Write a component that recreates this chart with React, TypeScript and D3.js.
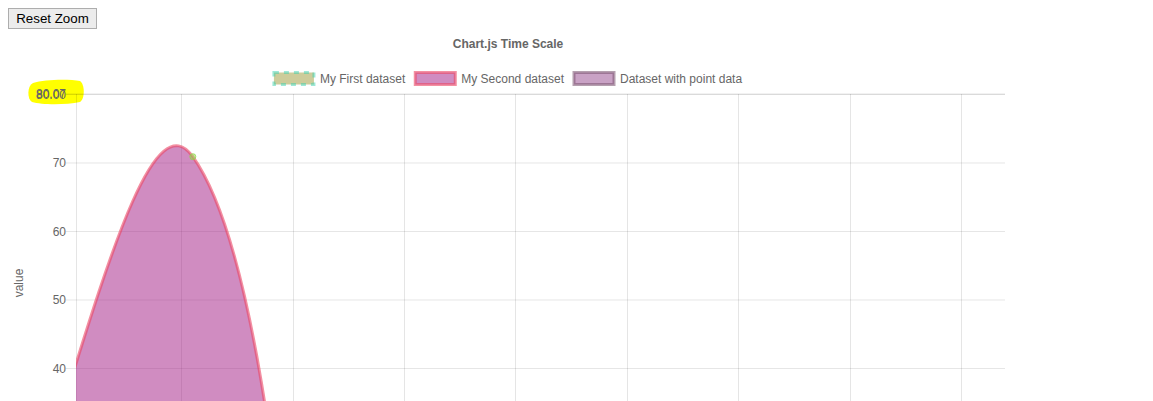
import React, { useMemo } from 'react';
import * as d3 from 'd3';

// ---------- data ----------
const TITLE = 'Chart.js Time Scale';
const Y_AXIS_TITLE = 'value';
const LEGEND_LABELS = ['My First dataset', 'My Second dataset', 'Dataset with point data'];

// visible (zoomed) window of the time axis and value axis
const X_WINDOW = [new Date(2017, 0, 3, 0, 41), new Date(2017, 0, 7, 4, 44)];
const Y_WINDOW = [24.89, 80.07];

const Y_TICK_VALUES = [80.07, 80, 70, 60, 50, 40];
const Y_TICK_LABELS = ['80.07', '80.00', '70', '60', '50', '40'];

// "My Second dataset"
const SECOND_DATES = [
  new Date(2017, 0, 1, 13, 16),
  new Date(2017, 0, 2, 13, 16),
  new Date(2017, 0, 3, 13, 16),
  new Date(2017, 0, 4, 13, 16),
  new Date(2017, 0, 5, 13, 16),
  new Date(2017, 0, 6, 13, 16),
  new Date(2017, 0, 7, 13, 16),
];
const SECOND_VALUES = [-76.9, -4.75, 70.92, -96.0, -23.0, -60, -15];

// ---------- layout / style ----------
const W = 1153;
const H = 401;
const AREA = { left: 76, right: 1005, top: 94, bottom: 472 };
const CANVAS = { left: 8, width: 1000 };
const FONT = "Arial, 'Liberation Sans', Helvetica, sans-serif";
const TEXT = '#666';
const GRID = 'rgba(0,0,0,0.1)';
const TENSION = 0.4;

const LEGEND_STYLES = [
  { fill: 'rgba(155,153,55,0.5)', stroke: 'rgba(60,210,175,0.5)', dash: '5,5' },
  { fill: 'rgba(161,25,131,0.5)', stroke: 'rgba(235,70,100,0.6)', dash: undefined },
  { fill: 'rgba(147,70,140,0.5)', stroke: 'rgba(120,80,110,0.55)', dash: undefined },
];
const SECOND_STYLE = {
  fill: 'rgba(161,25,131,0.5)',
  stroke: 'rgba(235,70,100,0.6)',
  pointFill: 'rgba(140,225,70,0.5)',
  pointStroke: 'rgba(140,215,70,0.7)',
};

type Pt = [number, number];

// Chart.js style spline (helpers.splineCurve)
function splinePath(pts: Pt[], tension: number, path: d3.Path) {
  const cps = pts.map((c, i) => {
    const prev = pts[i - 1] ?? c;
    const next = pts[i + 1] ?? c;
    const d01 = Math.hypot(c[0] - prev[0], c[1] - prev[1]);
    const d12 = Math.hypot(next[0] - c[0], next[1] - c[1]);
    let s01 = d01 / (d01 + d12);
    let s12 = d12 / (d01 + d12);
    if (isNaN(s01)) s01 = 0;
    if (isNaN(s12)) s12 = 0;
    const fa = tension * s01;
    const fb = tension * s12;
    return {
      prev: [c[0] - fa * (next[0] - prev[0]), c[1] - fa * (next[1] - prev[1])] as Pt,
      next: [c[0] + fb * (next[0] - prev[0]), c[1] + fb * (next[1] - prev[1])] as Pt,
    };
  });
  path.moveTo(pts[0][0], pts[0][1]);
  for (let i = 1; i < pts.length; i++) {
    path.bezierCurveTo(cps[i - 1].next[0], cps[i - 1].next[1], cps[i].prev[0], cps[i].prev[1], pts[i][0], pts[i][1]);
  }
  return path;
}

function measure(text: string, font: string) {
  const c = document.createElement('canvas');
  const ctx = c.getContext('2d');
  if (!ctx) return text.length * 6;
  ctx.font = font;
  return ctx.measureText(text).width;
}

export default function App() {
  const x = useMemo(() => d3.scaleTime().domain(X_WINDOW).range([AREA.left, AREA.right]), []);
  const y = useMemo(() => d3.scaleLinear().domain(Y_WINDOW).range([AREA.bottom, AREA.top]), []);

  const xTicks = x.ticks(d3.timeHour.every(12)!);

  const pts: Pt[] = SECOND_DATES.map((d, i) => [x(d), y(SECOND_VALUES[i])]);
  const linePath = splinePath(pts, TENSION, d3.path()).toString();
  const areaP = splinePath(pts, TENSION, d3.path());
  areaP.lineTo(pts[pts.length - 1][0], AREA.bottom);
  areaP.lineTo(pts[0][0], AREA.bottom);
  areaP.closePath();
  const areaPath = areaP.toString();

  // legend layout (Chart.js: box 40, gap fontSize/2, padding 10, centred)
  const legend = useMemo(() => {
    const font = `12px ${FONT}`;
    const widths = LEGEND_LABELS.map((l) => 40 + 6 + measure(l, font));
    const total = widths.reduce((a, b) => a + b + 10, 0);
    let cx = CANVAS.left + (CANVAS.width - total + 10) / 2;
    return LEGEND_LABELS.map((l, i) => {
      const item = { label: l, x: cx, style: LEGEND_STYLES[i] };
      cx += widths[i] + 10;
      return item;
    });
  }, []);

  const midY = (AREA.top + AREA.bottom) / 2;

  return (
    <div>
      <button
        style={{
          position: 'absolute',
          left: 8,
          top: 8,
          width: 89,
          height: 21,
          padding: '1px 6px',
          fontFamily: FONT,
          fontSize: 13.333,
          color: '#000',
          background: '#ececec',
          border: '1px solid #adadad',
          borderRadius: 0,
          zIndex: 2,
        }}
      >
        Reset Zoom
      </button>
      <svg
        width={W}
        height={H}
        style={{ position: 'absolute', left: 0, top: 0, overflow: 'hidden' }}
        fontFamily={FONT}
      >
        <defs>
          <clipPath id="area-clip">
            <rect x={AREA.left} y={AREA.top} width={AREA.right - AREA.left} height={AREA.bottom - AREA.top} />
          </clipPath>
        </defs>

        {/* highlighter mark behind the top tick label */}
        <path
          d="M33,83 C45,79 70,79 80,81 C85,84 85,99 80,102 C66,105 42,105 32,102 C27,99 27,86 33,83 Z"
          fill="#ffff00"
        />

        {/* title */}
        <text x={CANVAS.left + CANVAS.width / 2} y={44} dy="0.35em" textAnchor="middle" fontSize={12} fontWeight="bold" fill={TEXT}>
          {TITLE}
        </text>

        {/* legend */}
        {legend.map((it) => (
          <g key={it.label}>
            <rect
              x={it.x}
              y={72.5}
              width={40}
              height={12}
              fill={it.style.fill}
              stroke={it.style.stroke}
              strokeWidth={3}
              strokeDasharray={it.style.dash}
            />
            <text x={it.x + 46} y={78.5} dy="0.35em" fontSize={12} fill={TEXT}>
              {it.label}
            </text>
          </g>
        ))}

        {/* vertical grid lines (time ticks) */}
        {xTicks.map((t) => (
          <line
            key={+t}
            x1={Math.round(x(t)) + 0.5}
            x2={Math.round(x(t)) + 0.5}
            y1={AREA.top}
            y2={AREA.bottom + 10}
            stroke={GRID}
          />
        ))}
        {/* y axis border */}
        <line x1={AREA.left + 0.5} x2={AREA.left + 0.5} y1={AREA.top} y2={AREA.bottom} stroke={GRID} />

        {/* horizontal grid lines */}
        {Y_TICK_VALUES.map((v) => (
          <line key={v} x1={AREA.left - 10} x2={AREA.right} y1={y(v)} y2={y(v)} stroke={GRID} />
        ))}

        {/* dataset */}
        <g clipPath="url(#area-clip)">
          <path d={areaPath} fill={SECOND_STYLE.fill} />
          <path d={linePath} fill="none" stroke={SECOND_STYLE.stroke} strokeWidth={3} />
          {pts.map((p, i) => (
            <circle key={i} cx={p[0]} cy={p[1]} r={3} fill={SECOND_STYLE.pointFill} stroke={SECOND_STYLE.pointStroke} strokeWidth={1} />
          ))}
        </g>

        {/* y tick labels */}
        {Y_TICK_VALUES.map((v, i) => (
          <text key={v} x={AREA.left - 10} y={y(v)} dy="0.35em" textAnchor="end" fontSize={12} fill={TEXT}>
            {Y_TICK_LABELS[i]}
          </text>
        ))}

        {/* y axis title */}
        <text
          transform={`translate(19,${midY}) rotate(-90)`}
          textAnchor="middle"
          dy="0.35em"
          fontSize={12}
          fill={TEXT}
        >
          {Y_AXIS_TITLE}
        </text>
      </svg>
    </div>
  );
}
